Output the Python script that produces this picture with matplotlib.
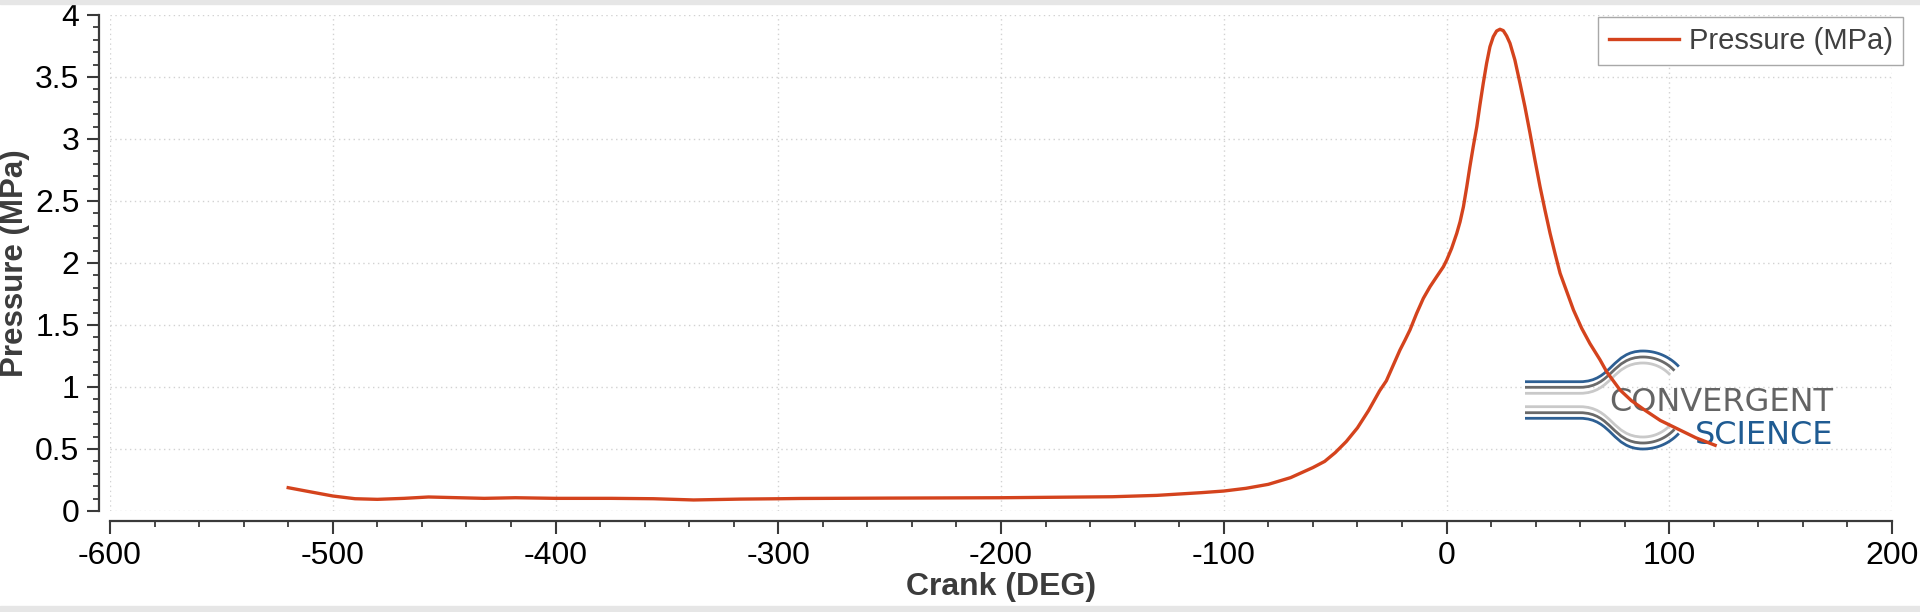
import numpy as np
import matplotlib
matplotlib.use("Agg")
import matplotlib.pyplot as plt
import matplotlib.transforms as mtransforms
from matplotlib.path import Path
from matplotlib.patches import PathPatch, Rectangle

# crank angle (deg) and cylinder pressure (MPa)
crank = [-520, -512, -500, -490, -480, -468, -457, -448, -432, -418, -400,
         -375, -356, -338, -317, -299, -290, -250, -200, -150, -130, -110,
         -100, -90, -80, -70, -60, -54.7, -50, -45, -40, -35, -30, -27,
         -20.9, -18.6, -16.4, -13.4, -10.4, -7.4, -4.4, -1.4, 0.1, 2.3, 4.6,
         6.1, 7.6, 9.1, 10.5, 12.0, 13.6, 15.0, 16.5, 18.0, 19.5, 21.0, 22.5,
         24.0, 25.5, 27.0, 28.5, 30.7, 33.0, 35.2, 37.5, 39.7, 42.0, 44.2,
         46.5, 48.7, 51.0, 54.0, 57.0, 60.7, 64.4, 68.9, 72.0, 77.9, 83.0,
         88.9, 96.0, 104.8, 112.0, 120.6]
pressure = [0.188, 0.161, 0.121, 0.099, 0.094, 0.102, 0.113, 0.109, 0.102,
            0.107, 0.102, 0.102, 0.099, 0.089, 0.096, 0.099, 0.101, 0.104,
            0.107, 0.115, 0.126, 0.148, 0.161, 0.183, 0.215, 0.269, 0.35,
            0.40, 0.47, 0.56, 0.67, 0.81, 0.97, 1.05,
            1.298, 1.379, 1.460, 1.594, 1.715, 1.809, 1.890, 1.970, 2.024,
            2.118, 2.239, 2.333, 2.454, 2.615, 2.777, 2.938, 3.099, 3.274,
            3.449, 3.610, 3.744, 3.825, 3.871, 3.885, 3.874, 3.831, 3.772,
            3.637, 3.449, 3.261, 3.046, 2.831, 2.615, 2.427, 2.239, 2.078,
            1.917, 1.769, 1.621, 1.473, 1.35, 1.22, 1.12, 0.976, 0.89, 0.815,
            0.73, 0.653, 0.59, 0.53]

x_ticks = [-600, -500, -400, -300, -200, -100, 0, 100, 200]
y_ticks = [0, 0.5, 1, 1.5, 2, 2.5, 3, 3.5, 4]
y_labels = ['0', '0.5', '1', '1.5', '2', '2.5', '3', '3.5', '4']

W, H = 1920, 612
plt.rcParams['font.family'] = ['Liberation Sans', 'DejaVu Sans']

fig = plt.figure(figsize=(W / 100, H / 100), dpi=100)
ax = fig.add_axes([110 / W, 1 - 511 / H, (1892 - 110) / W, (511 - 15) / H])

# grey window strips top and bottom
fig.patches.append(Rectangle((0, 1 - 4 / H), 1, 4 / H, transform=fig.transFigure,
                             color='#e6e6e6', zorder=0))
fig.patches.append(Rectangle((0, 0), 1, 6 / H, transform=fig.transFigure,
                             color='#e6e6e6', zorder=0))

ax.plot(crank, pressure, color='#d4431d', lw=2.4, label='Pressure (MPa)',
        zorder=5, solid_joinstyle='round')

ax.set_xlim(-600, 200)
ax.set_ylim(0, 4)
ax.set_xticks(x_ticks)
ax.set_xticklabels([str(v) for v in x_ticks])
ax.set_yticks(y_ticks)
ax.set_yticklabels(y_labels)
ax.set_xticks(np.arange(-600, 201, 20), minor=True)
ax.set_yticks(np.arange(0, 4.01, 0.1), minor=True)

for s in ['top', 'right']:
    ax.spines[s].set_visible(False)
ax.spines['left'].set_position(('outward', 8))
ax.spines['bottom'].set_position(('outward', 7.5))
ax.spines['left'].set_bounds(0, 4)
ax.spines['bottom'].set_bounds(-600, 200)
for s in ['left', 'bottom']:
    ax.spines[s].set_color('#3a3a3a')
    ax.spines[s].set_linewidth(1.6)

ax.tick_params(which='major', length=9, width=1.5, color='#3a3a3a',
               labelsize=23, labelcolor='black', pad=5)
ax.tick_params(which='minor', length=4.5, width=1.3, color='#3a3a3a')
ax.grid(True, which='major', color='#d2d2d2', lw=1, ls=(0, (1, 2.5)))

ax.set_xlabel('Crank (DEG)', fontsize=23, fontweight='bold', color='#3c3c3c',
              labelpad=1)
ax.set_ylabel('Pressure (MPa)', fontsize=22.5, fontweight='bold', color='#3c3c3c',
              labelpad=4)

leg = ax.legend(loc='upper right', bbox_to_anchor=(1903 / W, 1 - 17 / H),
                bbox_transform=fig.transFigure, fontsize=21, frameon=True,
                fancybox=False, framealpha=1, edgecolor='#a8a8a8',
                borderpad=0.35, handlelength=2.4, handletextpad=0.35,
                borderaxespad=0)
leg.get_frame().set_linewidth(1)
for t in leg.get_texts():
    t.set_color('#404040')

# company logo, drawn in figure pixel coordinates (y down)
px = mtransforms.Affine2D().scale(1 / W, -1 / H).translate(0, 1) + fig.transFigure
cx, cy = 1643, 400


def logo_line(h, r, sign, color):
    y0 = cy - sign * h
    yt = cy - sign * r
    verts = [(1525, y0), (1580, y0), (1612, y0), (1612, yt), (cx, yt)]
    codes = [Path.MOVETO, Path.LINETO, Path.CURVE4, Path.CURVE4, Path.CURVE4]
    ang = np.radians(np.linspace(90, 43, 20))
    for a in ang[1:]:
        verts.append((cx + r * np.cos(a), cy - sign * r * np.sin(a)))
        codes.append(Path.LINETO)
    ax.add_patch(PathPatch(Path(verts, codes), fill=False, edgecolor=color,
                           lw=2.0, transform=px, clip_on=False, zorder=2))


for sign in (1, -1):
    logo_line(18.3, 49, sign, '#2d5f93')
    logo_line(12.7, 43, sign, '#6a6a6a')
    logo_line(6.7, 37, sign, '#c9c9c9')

ax.text(1833, 411, 'CONVERGENT', transform=px, ha='right', va='baseline',
        fontsize=23, color='#646464', family='DejaVu Sans', zorder=3)
ax.text(1833, 444, 'SCIENCE', transform=px, ha='right', va='baseline',
        fontsize=23, color='#1f5b92', family='DejaVu Sans', zorder=3)

fig.savefig('out.png', dpi=100)
